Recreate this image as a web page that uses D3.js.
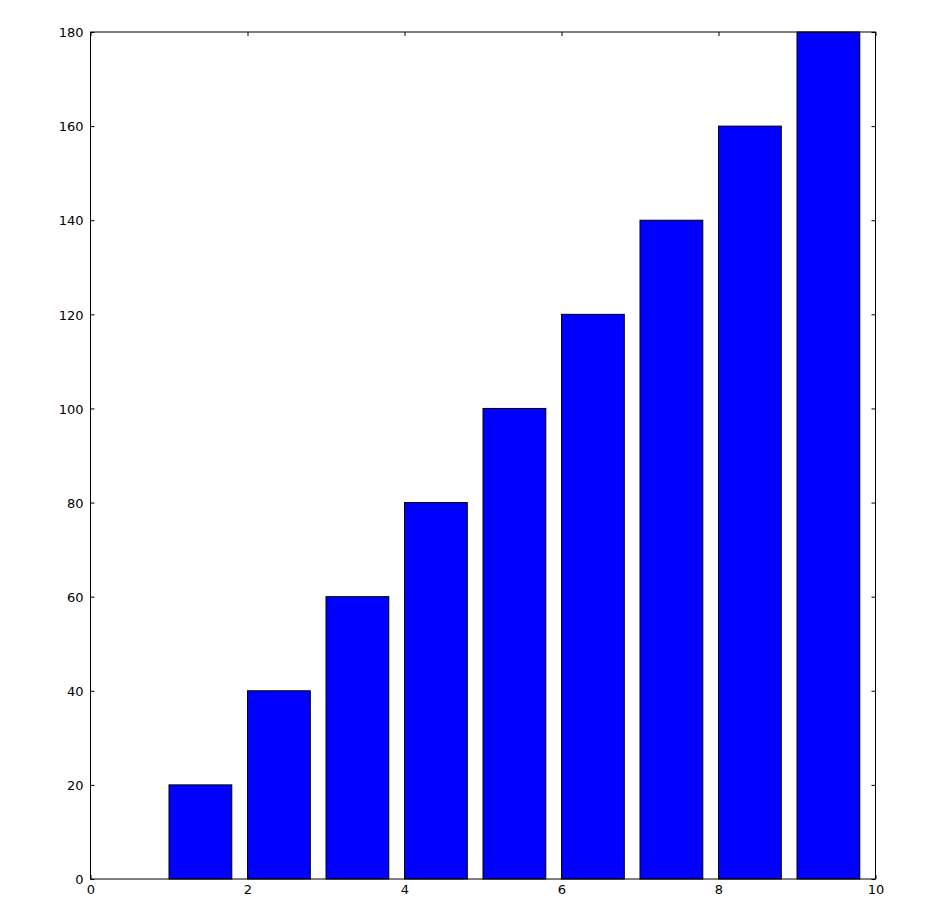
<!DOCTYPE html>
<html><head><meta charset="utf-8">
<script src="https://cdn.jsdelivr.net/npm/d3@7"></script>
<style>body{margin:0;background:#fff}svg{display:block}text{font-family:"DejaVu Sans",sans-serif;font-size:13px;fill:#000}</style>
</head><body>
<script>
const categories = [0,1,2,3,4,5,6,7,8,9];
const values = [0,20,40,60,80,100,120,140,160,180];
const xTicks = [0,2,4,6,8,10];
const yTicks = [0,20,40,60,80,100,120,140,160,180];
const barWidth = 0.8;

const W=945,H=917, L=90.5, R=875.5, T=32, B=879;
const svg=d3.select("body").append("svg").attr("width",W).attr("height",H);
const x=d3.scaleLinear().domain([0,10]).range([L,R]);
const y=d3.scaleLinear().domain([0,180]).range([B,T]);

svg.append("g").selectAll("rect").data(categories).join("rect")
  .attr("x",d=>x(d)).attr("width",d=>x(d+barWidth)-x(d))
  .attr("y",(d,i)=>y(values[i])).attr("height",(d,i)=>y(0)-y(values[i]))
  .attr("fill","#0000ff").attr("stroke","#000").attr("stroke-width",1);

const tl=4;
const gx=svg.append("g").attr("transform",`translate(0,${B})`).call(d3.axisBottom(x).tickValues(xTicks).tickSizeInner(-tl).tickSizeOuter(0).tickPadding(6).tickFormat(d3.format("d")));
const gxt=svg.append("g").attr("transform",`translate(0,${T})`).call(d3.axisTop(x).tickValues(xTicks).tickSizeInner(-tl).tickSizeOuter(0).tickFormat(""));
const gy=svg.append("g").attr("transform",`translate(${L},0)`).call(d3.axisLeft(y).tickValues(yTicks).tickSizeInner(-tl).tickSizeOuter(0).tickPadding(7).tickFormat(d3.format("d")));
const gyr=svg.append("g").attr("transform",`translate(${R},0)`).call(d3.axisRight(y).tickValues(yTicks).tickSizeInner(-tl).tickSizeOuter(0).tickFormat(""));
[gx,gxt,gy,gyr].forEach(g=>{g.select(".domain").remove();g.selectAll("line").attr("stroke","#000");g.selectAll("text").attr("font-family","DejaVu Sans").attr("font-size",13).attr("fill","#000");});
gy.selectAll("text").attr("dy","0.36em");
gx.selectAll("text").attr("dy","0.71em");

svg.append("rect").attr("x",L).attr("y",T).attr("width",R-L).attr("height",B-T)
  .attr("fill","none").attr("stroke","#000").attr("stroke-width",1);
</script>
</body></html>
